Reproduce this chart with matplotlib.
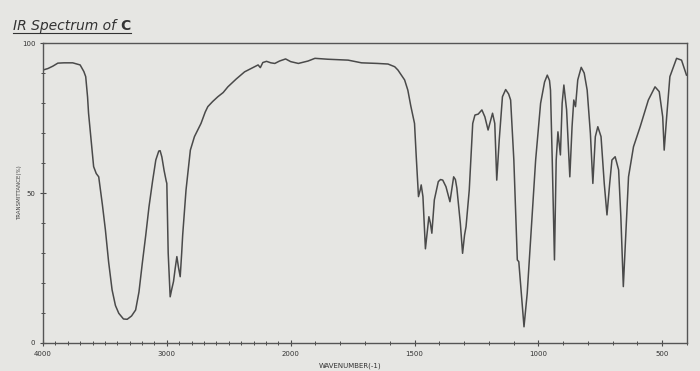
import numpy as np
import matplotlib
matplotlib.use("Agg")
import matplotlib.pyplot as plt
from matplotlib.ticker import FixedLocator, MultipleLocator

# IR spectrum: wavenumber (cm-1) vs transmittance (%)
wavenumber = [
    4000, 3960, 3920, 3880, 3830, 3760, 3700, 3670, 3655, 3640, 3632, 3610, 3591, 3570,
    3550, 3520, 3496, 3470, 3442, 3415, 3388, 3350, 3320, 3285, 3252, 3225, 3198, 3170,
    3144, 3115, 3089, 3065, 3054, 3040, 3022, 3005, 3000, 2989, 2973, 2960, 2946, 2932,
    2919, 2905, 2892, 2880, 2872, 2845, 2810, 2777, 2750, 2724, 2690, 2669, 2630, 2588,
    2545, 2507, 2440, 2372, 2320, 2263, 2245, 2225, 2195, 2160, 2128, 2090, 2041, 2000,
    1969, 1930, 1902, 1850, 1768, 1714, 1650, 1607, 1580, 1567, 1540, 1527, 1515, 1500,
    1493, 1484, 1477, 1473, 1466, 1456, 1442, 1436, 1430, 1420, 1404, 1395, 1386, 1373,
    1357, 1342, 1335, 1329, 1315, 1306, 1298, 1292, 1279, 1265, 1256, 1243, 1228, 1216,
    1203, 1190, 1185, 1176, 1168, 1158, 1145, 1132, 1120, 1112, 1099, 1085, 1079, 1069,
    1058, 1045, 1024, 1011, 991, 975, 964, 955, 951, 944, 935, 928, 921, 911, 904, 897,
    886, 873, 864, 857, 850, 841, 827, 815, 803, 790, 780, 770, 760, 747, 734, 723, 712,
    703, 690, 676, 667, 657, 647, 636, 616, 589, 556, 529, 512, 498, 492, 482, 469, 442,
    422, 402,
]
transmittance = [
    91.0, 91.5, 92.3, 93.3, 93.4, 93.4, 92.7, 90.5, 88.8, 82.0, 76.6, 67.0, 58.8, 56.5,
    55.4, 46.0, 37.7, 27.0, 17.7, 12.5, 9.9, 8.0, 7.9, 9.0, 11.0, 17.0, 26.6, 36.0,
    45.4, 54.0, 61.0, 64.0, 64.1, 62.0, 57.5, 54.0, 53.2, 30.0, 15.4, 18.0, 20.5, 25.0,
    28.8, 25.0, 22.1, 30.0, 36.0, 51.0, 64.3, 68.8, 71.0, 73.2, 77.0, 78.8, 80.5, 82.1,
    83.5, 85.4, 88.0, 90.4, 91.5, 92.7, 91.8, 93.5, 93.9, 93.4, 93.2, 94.0, 94.7, 93.8,
    93.2, 94.0, 94.9, 94.6, 94.3, 93.4, 93.2, 93.0, 92.1, 91.0, 87.7, 84.3, 79.0, 73.2,
    62.1, 48.8, 51.0, 52.7, 48.8, 31.4, 42.1, 40.0, 36.6, 47.7, 53.8, 54.5, 54.3, 52.1,
    47.1, 55.4, 54.5, 51.6, 39.9, 29.9, 36.0, 38.8, 51.0, 73.2, 76.0, 76.3, 77.7, 75.4,
    71.0, 75.0, 76.6, 73.2, 54.3, 67.7, 82.1, 84.5, 83.0, 81.0, 61.0, 27.7, 27.1, 16.6,
    5.4, 16.6, 44.3, 61.0, 79.9, 87.0, 89.3, 87.5, 84.3, 61.0, 27.7, 61.0, 70.4, 62.7, 79.9, 86.0,
    77.7, 55.4, 72.1, 81.0, 78.8, 87.7, 91.9, 90.0, 84.3, 69.9, 53.2, 68.8, 72.1, 68.8, 53.2, 42.7, 53.2,
    61.0, 62.1, 57.7, 42.1, 18.8, 36.6, 55.4, 65.4, 72.1, 81.0, 85.4, 83.8, 75.4, 64.3, 75.4, 88.8, 94.9,
    94.3, 89.3,
]
x_ticks = [4000, 3000, 2000, 1500, 1000, 500]
x_tick_labels = ["4000", "3000", "2000", "1500", "1000", "500"]
y_ticks = [0, 50, 100]
y_tick_labels = ["0", "50", "100"]

bg = "#e6e6e3"
ink = "#4a4a4a"


# chart paper: the scale below 2000 cm-1 is twice as wide
def fwd(w):
    w = np.asarray(w, dtype=float)
    return np.where(w >= 2000, w, 2 * w - 2000)


def inv(u):
    u = np.asarray(u, dtype=float)
    return np.where(u >= 2000, u, (u + 2000) / 2)


fig = plt.figure(figsize=(7, 3.71), dpi=100, facecolor=bg)
ax = fig.add_axes([0.0614, 0.0755, 0.9200, 0.8085], facecolor=bg)
ax.set_xscale("function", functions=(fwd, inv))

ax.plot(wavenumber, transmittance, color=ink, lw=1.1)

ax.set_xlim(4000, 400)
ax.set_ylim(0, 100)

ax.xaxis.set_major_locator(FixedLocator(x_ticks))
ax.xaxis.set_minor_locator(FixedLocator(list(range(4000, 399, -100))))
ax.set_xticklabels(x_tick_labels)
ax.yaxis.set_major_locator(FixedLocator(y_ticks))
ax.yaxis.set_minor_locator(MultipleLocator(10))
ax.set_yticklabels(y_tick_labels)

ax.tick_params(which="major", direction="inout", length=5, width=0.8, color=ink,
               labelsize=5, labelcolor="#333333", pad=3)
ax.tick_params(which="minor", direction="inout", length=3, width=0.7, color=ink)
for s in ax.spines.values():
    s.set_color("#555555")
    s.set_linewidth(1.0)

ax.set_xlabel("WAVENUMBER(-1)", fontsize=5, color="#333333")
ax.xaxis.set_label_coords(0.477, -0.065)
ax.set_ylabel("TRANSMITTANCE(%)", fontsize=4, color="#444444")
ax.yaxis.set_label_coords(-0.033, 0.5)

# title, italic with bold C, underlined
t1 = fig.text(0.019, 0.918, "IR Spectrum of ", fontsize=10, style="italic", color="#333333")
fig.canvas.draw()
r = fig.canvas.get_renderer()
bb = t1.get_window_extent(r).transformed(fig.transFigure.inverted())
t2 = fig.text(bb.x1, 0.918, "C", fontsize=10, weight="bold", color="#333333")
fig.canvas.draw()
bb2 = t2.get_window_extent(r).transformed(fig.transFigure.inverted())
fig.add_artist(plt.Line2D([bb.x0, bb2.x1], [0.911, 0.911], color="#333333", lw=0.8))

fig.savefig("out.png", dpi=100, facecolor=bg)
